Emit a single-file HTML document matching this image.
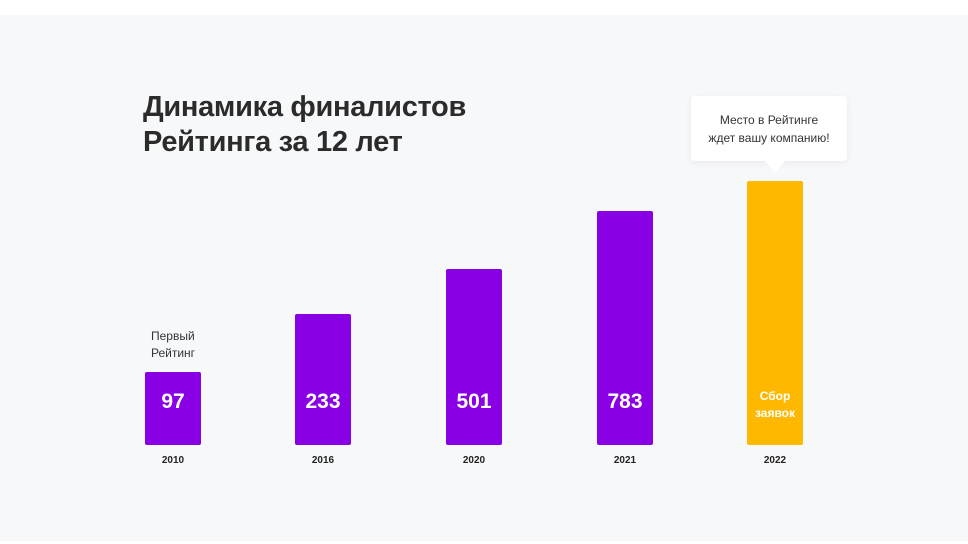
<!DOCTYPE html>
<html><head><meta charset="utf-8"><style>
body{margin:0;width:968px;height:544px;background:#fff;position:relative;overflow:hidden;font-family:"Liberation Sans",sans-serif}
.bg{position:absolute;left:0;top:15px;width:968px;height:526px;background:#f7f8fa}
.t{position:absolute;left:143px;top:90px;font-size:29px;font-weight:bold;color:#2b2b2b;line-height:35px;letter-spacing:-0.3px}
.bar{position:absolute;width:56px;background:#8a00e5;border-radius:2px;color:#fff;font-weight:bold;font-size:21px;line-height:24px;text-align:center;box-sizing:border-box;padding-top:0}
.bar span{position:absolute;left:0;right:0;bottom:31px}
.y{position:absolute;top:455px;width:56px;text-align:center;font-size:10px;font-weight:bold;color:#222}
.tip{position:absolute;left:691px;top:96px;width:156px;height:65px;background:#fff;border-radius:4px;box-shadow:0 2px 8px rgba(0,0,0,0.06);font-size:12px;color:#333;text-align:center;line-height:18px;box-sizing:border-box;padding-top:15px}
.arr{position:absolute;left:765px;top:161px;width:0;height:0;border-left:10px solid transparent;border-right:10px solid transparent;border-top:12px solid #fff}
</style></head><body>
<div class="bg"></div>
<div class="t">Динамика финалистов<br>Рейтинга за 12 лет</div>
<div style="position:absolute;left:151px;top:328px;font-size:12px;color:#333;line-height:17px">Первый<br>Рейтинг</div>
<div class="bar" style="left:145px;top:372px;height:73px"><span>97</span></div>
<div class="bar" style="left:295px;top:314px;height:131px"><span>233</span></div>
<div class="bar" style="left:446px;top:269px;height:176px"><span>501</span></div>
<div class="bar" style="left:597px;top:211px;height:234px"><span>783</span></div>
<div class="bar" style="left:747px;top:181px;height:264px;background:#ffb800;font-size:12px;line-height:17px"><span style="bottom:23px">Сбор<br>заявок</span></div>
<div class="y" style="left:145px">2010</div>
<div class="y" style="left:295px">2016</div>
<div class="y" style="left:446px">2020</div>
<div class="y" style="left:597px">2021</div>
<div class="y" style="left:747px">2022</div>
<div class="tip">Место в Рейтинге<br>ждет вашу компанию!</div>
<div class="arr"></div>
</body></html>
